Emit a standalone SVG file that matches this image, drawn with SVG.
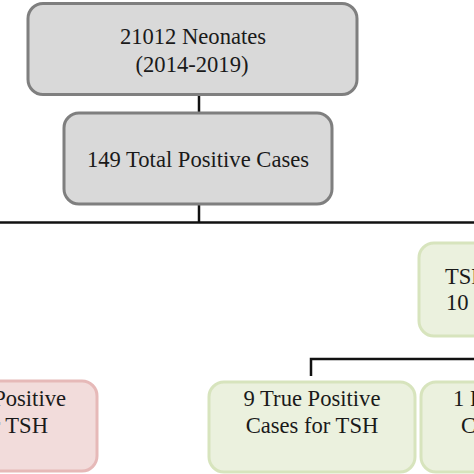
<svg xmlns="http://www.w3.org/2000/svg" width="474" height="474" viewBox="0 0 474 474">
<style>
  .gray { fill: #d9d9d9; stroke: #7f7f7f; stroke-width: 3; }
  .green { fill: #ebf1de; stroke: #d7e4bd; stroke-width: 3; }
  .pink { fill: #f2dcdb; stroke: #e6b9b8; stroke-width: 3; }
  text { font-family: "Liberation Serif", "Times New Roman", serif; font-size: 22.6px; fill: #1a1a1a; }
  .c { text-anchor: middle; }
  .e { text-anchor: end; }
  .conn { fill: none; stroke: #111111; stroke-width: 2.5; }
</style>
<rect width="474" height="474" fill="#ffffff"/>
<g id="connectors">
  <line class="conn" x1="199" y1="95" x2="199" y2="113"/>
  <line class="conn" x1="199" y1="204" x2="199" y2="222.5"/>
  <line class="conn" x1="0" y1="222.5" x2="474" y2="222.5"/>
  <polyline class="conn" points="311,376 311,359 476,359"/>
</g>
<g id="neonates">
  <rect class="gray" x="28" y="3.5" width="329" height="91" rx="15"/>
  <text class="c" x="193" y="44">21012 Neonates</text>
  <text class="c" x="192" y="72">(2014-2019)</text>
</g>
<g id="total-positive">
  <rect class="gray" x="64" y="113" width="268" height="91" rx="15"/>
  <text class="c" x="198" y="167">149 Total Positive Cases</text>
</g>
<g id="tsh">
  <rect class="green" x="419" y="243" width="90" height="93" rx="15"/>
  <text x="445" y="284">TSH</text>
  <text x="446" y="310">10 P</text>
</g>
<g id="false-positive-left">
  <rect class="pink" x="-40" y="381" width="137" height="90" rx="15"/>
  <text class="e" x="66" y="406">Positive</text>
  <text class="e" x="48" y="433">for TSH</text>
</g>
<g id="true-positive-tsh">
  <rect class="green" x="209" y="382" width="206" height="90" rx="15"/>
  <text class="c" x="312" y="406">9 True Positive</text>
  <text class="c" x="312" y="433">Cases for TSH</text>
</g>
<g id="false-positive-tsh">
  <rect class="green" x="421" y="382" width="90" height="90" rx="15"/>
  <text x="453" y="406">1 F</text>
  <text x="461" y="433">C</text>
</g>
</svg>
